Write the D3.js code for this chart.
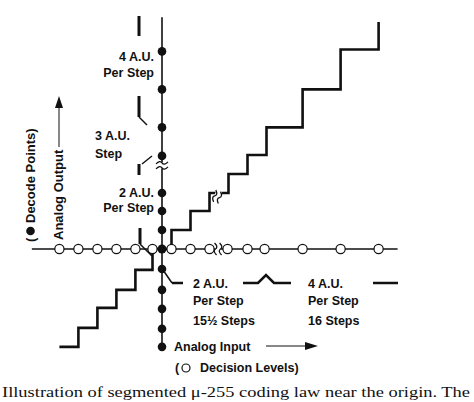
<!DOCTYPE html><html><head><meta charset="utf-8">
<script src="https://cdn.jsdelivr.net/npm/d3@7"></script>
<style>body{margin:0;background:#fff}svg{display:block}text{font-family:"Liberation Sans",Arial,sans-serif;font-weight:bold;fill:#111}</style>
</head><body><svg id="c" width="474" height="402"></svg><script>
// values in "step units" of the drawing
const decisionLevels=[-5.4,-4.4,-3.4,-2.4,-1.4,-0.5,0.5,1.5,2.5,3.45,4.5,5.4,7.4,9.4,11.4];
const decodePoints=[1,2,2.95,4.9,6.4,8.4,10.4,-1.05,-2.15,-3.15,-4.2,-5.15];
const rightStepX=[0.5,1.5,2.5,3.5,4.5,5.5,7.4,9.4,11.4];
const rightStepY=[1,2,2.95,3.95,4.95,6.4,8.4,10.5,11.95];
const leftStepX=[-0.5,-1.4,-2.4,-3.4,-4.4,-5.4];
const leftStepY=[-1.1,-2.15,-3.1,-4.15,-5.15];
const svg=d3.select("#c");
const x=d3.scaleLinear().domain([0,1]).range([162,181]);
const y=d3.scaleLinear().domain([0,1]).range([249,230]);
svg.append("line").attr("x1",x(-6.85)).attr("x2",x(12.4)).attr("y1",y(0)).attr("y2",y(0)).attr("stroke","#111").attr("stroke-width",1.6);
svg.append("line").attr("x1",x(0)).attr("x2",x(0)).attr("y1",y(12.2)).attr("y2",y(-5.15)).attr("stroke","#111").attr("stroke-width",1.6);
let pts=[[-0.5,0]];
rightStepX.forEach((u,i)=>{const prev=i?rightStepY[i-1]:0;pts.push([u,prev]);pts.push([u,rightStepY[i]]);});
let lp=[[-0.5,0]];
leftStepY.forEach((v,i)=>{lp.push([leftStepX[i],v]);lp.push([leftStepX[i+1],v]);if(i<leftStepY.length-1)lp.push([leftStepX[i+1],leftStepY[i+1]]);});
const line=d3.line().x(d=>x(d[0])).y(d=>y(d[1]));
svg.append("path").attr("d",line(pts)).attr("fill","none").attr("stroke","#111").attr("stroke-width",2.6);
svg.append("path").attr("d",line(lp)).attr("fill","none").attr("stroke","#111").attr("stroke-width",2.6);
function brk(cx,cy,rot){const g=svg.append("g").attr("transform",`translate(${cx},${cy}) rotate(${rot})`);
 g.append("rect").attr("x",-3).attr("y",-7).attr("width",6).attr("height",14).attr("fill","#fff");
 [-2.5,2.5].forEach(o=>g.append("path").attr("d",`M${o-1},-6 Q${o+3},-2 ${o},0 Q${o-3},2 ${o+1},6`).attr("fill","none").attr("stroke","#111").attr("stroke-width",1.3));}
brk(x(2.95),y(0),0);brk(x(0),y(4.4),90);brk(x(2.9),y(2.75),20);
svg.selectAll("circle.d").data(decisionLevels).join("circle").attr("cx",d=>x(d)).attr("cy",y(0)).attr("r",4.6).attr("fill","#fff").attr("stroke","#111").attr("stroke-width",1.2);
svg.selectAll("circle.p").data(decodePoints).join("circle").attr("cx",x(0)).attr("cy",d=>y(d)).attr("r",4.3).attr("fill","#111");
svg.append("circle").attr("cx",x(0)).attr("cy",y(0)).attr("r",4.5).attr("fill","#111");
const S=(d,w)=>svg.append("path").attr("d",d).attr("fill","none").attr("stroke","#111").attr("stroke-width",w||3);
S("M139,16V36");S("M139,96V117");S("M139,117L147,125",1.5);S("M152,156L142,164",1.5);S("M139,164V175");
S("M140,228V244");S("M140,244L152,256",1.5);S("M163,270L172,283",1.5);S("M172,283H183",2.5);
S("M243,283H258L266,275L274,283H291",2.5);S("M373,283H398",2.5);
const T=(t,px,py,a,fs)=>svg.append("text").attr("x",px).attr("y",py).attr("text-anchor",a||"start").attr("font-size",fs||12.5).text(t);
T("4 A.U.",154,61,"end");T("Per Step",154,77,"end");T("3 A.U.",95,140);T("Step",95,158);
T("2 A.U.",154,197,"end");T("Per Step",154,212,"end");
T("2 A.U.",193,288);T("Per Step",193,305);T("15½ Steps",193,325);
T("4 A.U.",308,288);T("Per Step",308,305);T("16 Steps",308,325);
T("Analog Input",174,351);
svg.append("line").attr("x1",266).attr("x2",308).attr("y1",346).attr("y2",346).attr("stroke","#111").attr("stroke-width",1);
svg.append("path").attr("d","M318,346L305,342L305,350Z").attr("fill","#111");
T("(",175,372);svg.append("circle").attr("cx",186).attr("cy",368).attr("r",4).attr("fill","none").attr("stroke","#111").attr("stroke-width",1.2);
T("Decision Levels)",200,372);
const g1=svg.append("g").attr("transform","translate(35,242) rotate(-90)");
g1.append("text").attr("font-size",13).attr("x",0).text("(");
g1.append("circle").attr("cx",11).attr("cy",-4.5).attr("r",4.3).attr("fill","#111");
g1.append("text").attr("font-size",13).attr("x",19).text("Decode Points)");
const g2=svg.append("g").attr("transform","translate(63,240) rotate(-90)");
g2.append("text").attr("font-size",13).text("Analog Output");
svg.append("line").attr("x1",59).attr("x2",59).attr("y1",147).attr("y2",105).attr("stroke","#111").attr("stroke-width",1);
svg.append("path").attr("d","M59,96L55,108L63,108Z").attr("fill","#111");
svg.append("text").attr("x",2).attr("y",397).attr("font-size",15.5).attr("textLength",468).attr("lengthAdjust","spacingAndGlyphs").style("font-family","'Liberation Serif',serif").style("font-weight","normal").text("Illustration of segmented μ-255 coding law near the origin.  The");
</script></body></html>
